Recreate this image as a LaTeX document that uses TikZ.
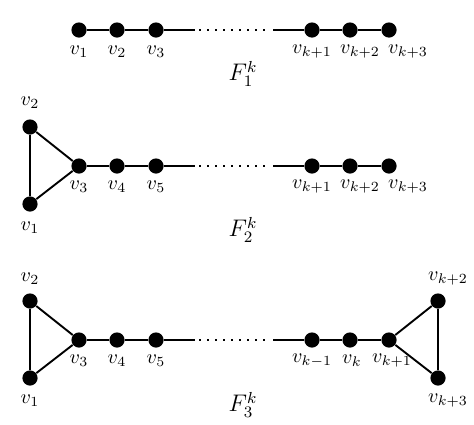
\documentclass[tikz,border=0pt]{standalone}
\begin{document}
\begin{tikzpicture}[x=0.5pt,y=-0.5pt,
  vtx/.style={circle,fill=black,inner sep=0pt,minimum size=7.6pt},
  lbl/.style={inner sep=0pt,font=\normalsize},
  ttl/.style={inner sep=0pt,font=\large},
  edge/.style={line width=0.95pt},
  dots/.style={line width=1.2pt,dash pattern=on 1.2pt off 2.8pt}]
\useasboundingbox (0,0) rectangle (474,424);
% ---------- F1 ----------
\node[vtx] (a1) at (79,30) {};
\node[vtx] (a2) at (117,30) {};
\node[vtx] (a3) at (156,30) {};
\node[vtx] (a4) at (312,30) {};
\node[vtx] (a5) at (350,30) {};
\node[vtx] (a6) at (389,30) {};
\coordinate (a3e) at (195,30);
\coordinate (a4s) at (273,30);
\draw[edge] (a1) -- (a2) -- (a3) -- (a3e);
\draw[edge] (a4s) -- (a4) -- (a5) -- (a6);
\draw[dots] (199,30) -- (270,30);
\node[lbl] (la1) at (79,52) {$v_1$};
\node[lbl] (la2) at (117,52) {$v_2$};
\node[lbl] (la3) at (156,52) {$v_3$};
\node[lbl] (la4) at (312,52) {$v_{k+1}$};
\node[lbl] (la5) at (360,52) {$v_{k+2}$};
\node[lbl] (la6) at (408,52) {$v_{k+3}$};
\node[ttl] (t1) at (243,74) {$F^k_1$};
% ---------- F2 ----------
\node[vtx] (b2) at (30,127) {};
\node[vtx] (b1) at (30,204) {};
\node[vtx] (b3) at (79,166) {};
\node[vtx] (b4) at (117,166) {};
\node[vtx] (b5) at (156,166) {};
\node[vtx] (b6) at (312,166) {};
\node[vtx] (b7) at (350,166) {};
\node[vtx] (b8) at (389,166) {};
\coordinate (b5e) at (195,166);
\coordinate (b6s) at (273,166);
\draw[edge] (b1) -- (b2) -- (b3) -- (b1);
\draw[edge] (b3) -- (b4) -- (b5) -- (b5e);
\draw[edge] (b6s) -- (b6) -- (b7) -- (b8);
\draw[dots] (199,166) -- (270,166);
\node[lbl] (lb2) at (30,103) {$v_2$};
\node[lbl] (lb1) at (30,228) {$v_1$};
\node[lbl] (lb3) at (79,187) {$v_3$};
\node[lbl] (lb4) at (117,187) {$v_4$};
\node[lbl] (lb5) at (156,187) {$v_5$};
\node[lbl] (lb6) at (312,187) {$v_{k+1}$};
\node[lbl] (lb7) at (360,187) {$v_{k+2}$};
\node[lbl] (lb8) at (408,187) {$v_{k+3}$};
\node[ttl] (t2) at (243,230) {$F^k_2$};
% ---------- F3 ----------
\node[vtx] (c2) at (30,301) {};
\node[vtx] (c1) at (30,378) {};
\node[vtx] (c3) at (79,340) {};
\node[vtx] (c4) at (117,340) {};
\node[vtx] (c5) at (156,340) {};
\node[vtx] (c6) at (312,340) {};
\node[vtx] (c7) at (350,340) {};
\node[vtx] (c8) at (389,340) {};
\node[vtx] (c9) at (438,301) {};
\node[vtx] (c10) at (438,378) {};
\coordinate (c5e) at (195,340);
\coordinate (c6s) at (273,340);
\draw[edge] (c1) -- (c2) -- (c3) -- (c1);
\draw[edge] (c3) -- (c4) -- (c5) -- (c5e);
\draw[edge] (c6s) -- (c6) -- (c7) -- (c8);
\draw[edge] (c8) -- (c9) -- (c10) -- (c8);
\draw[dots] (199,340) -- (270,340);
\node[lbl] (lc2) at (30,279) {$v_2$};
\node[lbl] (lc1) at (30,401) {$v_1$};
\node[lbl] (lc3) at (79,361) {$v_3$};
\node[lbl] (lc4) at (117,361) {$v_4$};
\node[lbl] (lc5) at (156,361) {$v_5$};
\node[lbl] (lc6) at (312,361) {$v_{k-1}$};
\node[lbl] (lc7) at (352,361) {$v_k$};
\node[lbl] (lc8) at (392,361) {$v_{k+1}$};
\node[lbl] (lc9) at (448,279) {$v_{k+2}$};
\node[lbl] (lc10) at (448,401) {$v_{k+3}$};
\node[ttl] (t3) at (243,405) {$F^k_3$};
\end{tikzpicture}
\end{document}
